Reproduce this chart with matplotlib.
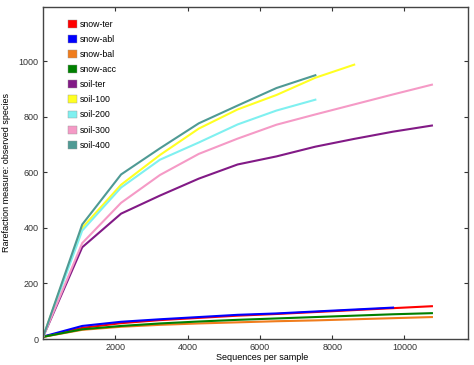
import matplotlib
matplotlib.use("Agg")
import matplotlib.pyplot as plt
from matplotlib.patches import Patch

plt.rcParams['font.family'] = ['Liberation Sans', 'DejaVu Sans']

# profundidades de rarefação
depth = [10, 1085, 2160, 3235, 4310, 5385, 6460, 7535, 8610, 9685, 10760]

snow_ter = [8, 40, 57, 68, 76, 84, 90, 97, 104, 111, 118]
snow_abl = [9, 47, 62, 71, 79, 87, 92, 99, 106, 113]
snow_bal = [8, 33, 44, 51, 56, 60, 64, 67, 71, 75, 79]
snow_acc = [8, 35, 47, 56, 63, 69, 74, 79, 84, 89, 93]
soil_ter = [10, 330, 451, 516, 577, 628, 657, 692, 720, 746, 768]
soil_100 = [10, 400, 555, 662, 757, 826, 878, 940, 987]
soil_200 = [10, 390, 545, 645, 707, 772, 822, 861]
soil_300 = [10, 345, 490, 590, 666, 721, 771, 808, 844, 880, 915]
soil_400 = [10, 412, 592, 686, 776, 840, 903, 949]

series = [
    ('snow-ter', snow_ter, '#ff0000'),
    ('snow-abl', snow_abl, '#0000ff'),
    ('snow-bal', snow_bal, '#f07c1c'),
    ('snow-acc', snow_acc, '#008000'),
    ('soil-ter', soil_ter, '#821a86'),
    ('soil-100', soil_100, '#ffff22'),
    ('soil-200', soil_200, '#7ff0f0'),
    ('soil-300', soil_300, '#f59ac6'),
    ('soil-400', soil_400, '#4f9a94'),
]

fig = plt.figure(figsize=(4.74, 3.65), dpi=100)
ax = fig.add_axes([0.0907, 0.0712, 0.896, 0.91])

for nome, vals, cor in series:
    ax.plot(depth[:len(vals)], vals, color=cor, lw=1.5)

ax.set_xlim(0, 11750)
ax.set_ylim(0, 1195)
ax.set_xticks([2000, 4000, 6000, 8000, 10000])
ax.set_yticks([0, 200, 400, 600, 800, 1000])
ax.tick_params(direction='in', top=True, right=True, labelsize=6.5, length=3,
               pad=3, colors='#333333')
for s in ax.spines.values():
    s.set_color('#444444')
    s.set_linewidth(1.0)

ax.set_xlabel('Sequences per sample', fontsize=6.5, labelpad=2)
ax.xaxis.set_label_coords(0.515, -0.042)
ax.set_ylabel('Rarefaction measure: observed species', fontsize=6.5)
ax.yaxis.set_label_coords(-0.075, 0.5)

handles = [Patch(facecolor=c, edgecolor='#999999', linewidth=0.3) for _, _, c in series]
ax.legend(handles, [n for n, _, _ in series], loc='upper left', frameon=False,
          fontsize=6.3, handlelength=1.0, handleheight=1.0, handletextpad=0.35,
          labelspacing=0.7, bbox_to_anchor=(0.04, 0.985))

fig.savefig('out.png', dpi=100)
